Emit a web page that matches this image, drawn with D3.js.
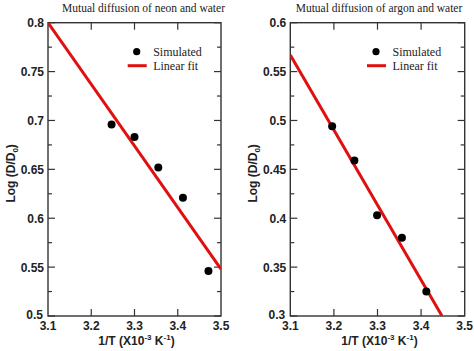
<!DOCTYPE html>
<html>
<head>
<meta charset="utf-8">
<script src="https://cdn.jsdelivr.net/npm/d3@7"></script>
<style>
  body { margin: 0; background: #fff; }
  svg { display: block; }
  .tick-label { font-family: "Liberation Sans", Arial, sans-serif; font-weight: bold; font-size: 12px; fill: #222; }
  .axis-title { font-family: "Liberation Sans", Arial, sans-serif; font-weight: bold; font-size: 12px; fill: #222; }
  .serif { font-family: "Liberation Serif", "Times New Roman", serif; fill: #222; }
</style>
</head>
<body>
<svg id="chart" width="474" height="351"></svg>
<script>
// ---- data ----
const xTicks = [3.1, 3.2, 3.3, 3.4, 3.5];

const neonTitle = 'Mutual diffusion of neon and water';
const neonX = [3.247, 3.300, 3.355, 3.412, 3.471];
const neonY = [0.696, 0.683, 0.652, 0.621, 0.546];
const neonFit = [[3.1, 0.800], [3.5, 0.548]];
const neonYTicks = [0.5, 0.55, 0.6, 0.65, 0.7, 0.75, 0.8];

const argonTitle = 'Mutual diffusion of argon and water';
const argonX = [3.196, 3.247, 3.299, 3.356, 3.412];
const argonY = [0.494, 0.459, 0.403, 0.380, 0.325];
const argonFit = [[3.1, 0.567], [3.448, 0.300]];
const argonYTicks = [0.3, 0.35, 0.4, 0.45, 0.5, 0.55, 0.6];

const svg = d3.select('#chart');

function drawPanel(cfg) {
    const g = svg.append('g');
    const x = d3.scaleLinear().domain([3.1, 3.5]).range([cfg.left, cfg.right]);
    const y = d3.scaleLinear().domain(cfg.yDomain).range([316, 22.7]);
    const step = cfg.yTicks[1] - cfg.yTicks[0];
    const minorY = cfg.yTicks.slice(0, -1).map(v => v + step / 2);

    const clipId = 'clip-' + cfg.id;
    svg.append('clipPath').attr('id', clipId)
        .append('rect')
        .attr('x', cfg.left).attr('y', 22.7)
        .attr('width', cfg.right - cfg.left).attr('height', 316 - 22.7);

    // frame
    g.append('rect')
        .attr('x', cfg.left).attr('y', 22.7)
        .attr('width', cfg.right - cfg.left).attr('height', 316 - 22.7)
        .attr('fill', 'none').attr('stroke', '#333').attr('stroke-width', 1.4);

    // y ticks (inward on both sides)
    const yt = cfg.yTicks.map(v => ({ v, len: 7 })).concat(minorY.map(v => ({ v, len: 4 })));
    g.selectAll('.ytl').data(yt).join('line')
        .attr('x1', cfg.left).attr('x2', d => cfg.left + d.len)
        .attr('y1', d => y(d.v)).attr('y2', d => y(d.v))
        .attr('stroke', '#333').attr('stroke-width', 1.2);
    g.selectAll('.ytr').data(yt).join('line')
        .attr('x1', cfg.right).attr('x2', d => cfg.right - d.len)
        .attr('y1', d => y(d.v)).attr('y2', d => y(d.v))
        .attr('stroke', '#333').attr('stroke-width', 1.2);

    // x ticks (inward top and bottom)
    const xt = xTicks.slice(1, -1);
    g.selectAll('.xtb').data(xt).join('line')
        .attr('x1', d => x(d)).attr('x2', d => x(d))
        .attr('y1', 316).attr('y2', 309)
        .attr('stroke', '#333').attr('stroke-width', 1.2);
    g.selectAll('.xtt').data(xt).join('line')
        .attr('x1', d => x(d)).attr('x2', d => x(d))
        .attr('y1', 22.7).attr('y2', 29.7)
        .attr('stroke', '#333').attr('stroke-width', 1.2);

    // tick labels (bottom y label sits a bit higher, as in the original)
    g.selectAll('.ylab').data(cfg.yTicks).join('text')
        .attr('class', 'tick-label')
        .attr('x', (d, i) => cfg.left - (i === 0 ? 5 : 4))
        .attr('y', (d, i) => y(d) + (i === 0 ? 2.5 : 4.5))
        .attr('text-anchor', 'end')
        .text(d => d);
    g.selectAll('.xlab').data(xTicks).join('text')
        .attr('class', 'tick-label')
        .attr('x', d => x(d)).attr('y', 330)
        .attr('text-anchor', 'middle')
        .text(d => d.toFixed(1));

    // axis titles
    const xl = g.append('text').attr('class', 'axis-title')
        .attr('x', (cfg.left + cfg.right) / 2 + 2).attr('y', 345)
        .attr('text-anchor', 'middle');
    xl.append('tspan').text('1/T (X10');
    xl.append('tspan').attr('dy', -5).attr('font-size', 8).text('-3');
    xl.append('tspan').attr('dy', 5).text(' K');
    xl.append('tspan').attr('dy', -5).attr('font-size', 8).text('-1');
    xl.append('tspan').attr('dy', 5).text(')');

    const yl = g.append('text').attr('class', 'axis-title')
        .attr('transform', `translate(${cfg.left - 33},${(22.7 + 316) / 2 + 4}) rotate(-90)`)
        .attr('text-anchor', 'middle');
    yl.append('tspan').text('Log (D/D');
    yl.append('tspan').attr('dy', 3).attr('font-size', 8).text('0');
    yl.append('tspan').attr('dy', -3).text(')');

    // chart title
    g.append('text').attr('class', 'serif')
        .attr('x', cfg.titleX).attr('y', 12)
        .attr('text-anchor', 'middle').attr('font-size', 11.5)
        .text(cfg.title);

    // fit line
    g.append('path')
        .datum(cfg.fit)
        .attr('clip-path', `url(#${clipId})`)
        .attr('d', d3.line().x(d => x(d[0])).y(d => y(d[1])))
        .attr('stroke', '#e01010').attr('stroke-width', 3).attr('fill', 'none');

    // simulated points
    g.selectAll('.pt').data(cfg.xs.map((v, i) => [v, cfg.ys[i]])).join('circle')
        .attr('cx', d => x(d[0])).attr('cy', d => y(d[1]))
        .attr('r', 4).attr('fill', '#000');

    // legend
    const lx = cfg.left + cfg.legendOffset;
    g.append('circle').attr('cx', lx + 9).attr('cy', 51.7).attr('r', 3.6).attr('fill', '#000');
    g.append('line').attr('x1', lx).attr('x2', lx + 19).attr('y1', 65.7).attr('y2', 65.7)
        .attr('stroke', '#e01010').attr('stroke-width', 3);
    g.append('text').attr('class', 'serif').attr('font-size', 12)
        .attr('x', lx + 25.5).attr('y', 56).text('Simulated');
    g.append('text').attr('class', 'serif').attr('font-size', 12)
        .attr('x', lx + 25.5).attr('y', 69.5).text('Linear fit');
}

drawPanel({ id: 'neon', left: 48, right: 221, yDomain: [0.5, 0.8], yTicks: neonYTicks,
    xs: neonX, ys: neonY, fit: neonFit, title: neonTitle, titleX: 143.5, legendOffset: 79.7 });
drawPanel({ id: 'argon', left: 290.3, right: 464.7, yDomain: [0.3, 0.6], yTicks: argonYTicks,
    xs: argonX, ys: argonY, fit: argonFit, title: argonTitle, titleX: 379, legendOffset: 76.7 });
</script>
</body>
</html>
